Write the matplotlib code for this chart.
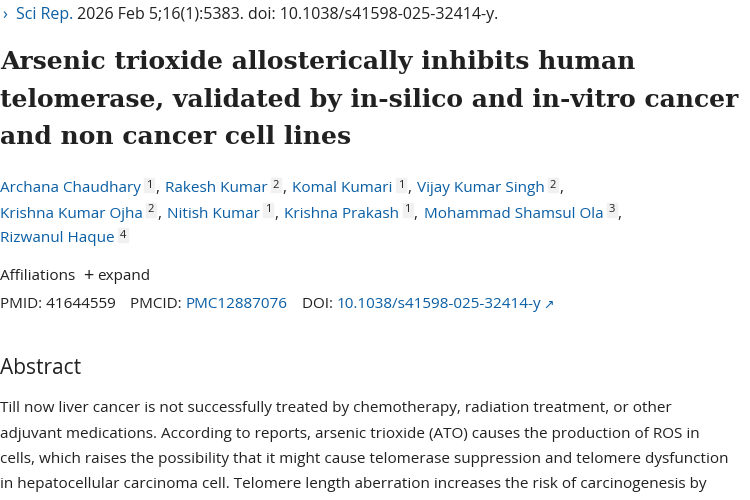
import matplotlib
matplotlib.use("Agg")
import matplotlib.pyplot as plt

BLUE = "#0b5fa5"
DARK = "#212121"
W, H = 750, 500

journal_line = [("›  ", BLUE), ("Sci Rep.", BLUE), (" 2026 Feb 5;16(1):5383. doi: 10.1038/s41598-025-32414-y.", DARK)]
title_lines = ["Arsenic trioxide allosterically inhibits human",
               "telomerase, validated by in-silico and in-vitro cancer",
               "and non cancer cell lines"]
authors = [
    [("Archana Chaudhary", "1", True), ("Rakesh Kumar", "2", True), ("Komal Kumari", "1", True), ("Vijay Kumar Singh", "2", True)],
    [("Krishna Kumar Ojha", "2", True), ("Nitish Kumar", "1", True), ("Krishna Prakash", "1", True), ("Mohammad Shamsul Ola", "3", True)],
    [("Rizwanul Haque", "4", False)],
]
abstract_lines = [
    "Till now liver cancer is not successfully treated by chemotherapy, radiation treatment, or other",
    "adjuvant medications. According to reports, arsenic trioxide (ATO) causes the production of ROS in",
    "cells, which raises the possibility that it might cause telomerase suppression and telomere dysfunction",
    "in hepatocellular carcinoma cell. Telomere length aberration increases the risk of carcinogenesis by",
]

fig = plt.figure(figsize=(7.5, 5), dpi=100)
fig.patch.set_facecolor("white")
ax = fig.add_axes([0, 0, 1, 1])
ax.set_xlim(0, W); ax.set_ylim(H, 0); ax.axis("off")
fig.canvas.draw()
r = fig.canvas.get_renderer()
SANS = ["Open Sans", "DejaVu Sans"]

def run(x, y, s, **kw):
    t = ax.text(x, y, s, va="center", ha="left", **kw)
    bb = t.get_window_extent(r)
    return x + bb.width

# journal line
x = 3
for s, c in journal_line:
    x = run(x, 15, s, color=c, fontsize=11.5, family=SANS)

# title
for i, s in enumerate(title_lines):
    ax.text(0, 62 + i * 37.5, s, va="center", ha="left", fontsize=18,
            fontweight="bold", family=["DejaVu Serif"], color=DARK)

# authors
for li, line in enumerate(authors):
    y = 189 + li * 25
    x = 0
    for name, sup, comma in line:
        x = run(x, y, name, color=BLUE, fontsize=11, family=SANS)
        x += 5
        t = ax.text(x, y - 4, sup, va="center", ha="left", fontsize=8, color=DARK, family=SANS,
                    bbox=dict(boxstyle="square,pad=0.15", fc="#f1f1f1", ec="#f1f1f1"))
        x += t.get_window_extent(r).width + 3
        if comma:
            x = run(x, y, ",", color=DARK, fontsize=11, family=SANS)
            x += 6

# affiliations
x = run(0, 276, "Affiliations", color=DARK, fontsize=11, family=SANS)
x = run(x + 8, 276, "+", color=DARK, fontsize=13, family=SANS)
run(x + 4, 276, "expand", color=DARK, fontsize=11, family=SANS)

# IDs
x = run(0, 304, "PMID: 41644559", color=DARK, fontsize=11, family=SANS)
x = run(x + 14, 304, "PMCID: ", color=DARK, fontsize=11, family=SANS)
x = run(x, 304, "PMC12887076", color=BLUE, fontsize=11, family=SANS)
x = run(x + 14, 304, "DOI: ", color=DARK, fontsize=11, family=SANS)
x = run(x, 304, "10.1038/s41598-025-32414-y", color=BLUE, fontsize=11, family=SANS)
run(x + 2, 305, "↗", color=BLUE, fontsize=9, family=["DejaVu Sans"])

# abstract
ax.text(0, 368, "Abstract", va="center", ha="left", fontsize=15, color=DARK, family=SANS)
for i, s in enumerate(abstract_lines):
    ax.text(0, 409 + i * 25.3, s, va="center", ha="left", fontsize=11, color=DARK, family=SANS)

fig.savefig("out.png", dpi=100, facecolor="white")
